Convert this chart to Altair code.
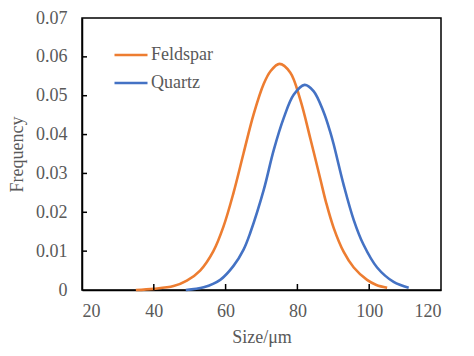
import altair as alt
import pandas as pd

feld_x = [35, 40, 45.5, 49.2, 52.9, 56.6, 59.4, 62.2, 65.0, 67.8, 70.6, 72.5, 75.0, 78.0, 80.8, 83.6, 86.4, 88.0, 90.1, 92.9, 95.7, 99.4, 102.0, 105.0]
feld_y = [0.0, 0.0003, 0.001, 0.0024, 0.005, 0.0100, 0.0163, 0.0250, 0.0352, 0.0452, 0.0530, 0.0563, 0.0582, 0.0560, 0.0490, 0.0390, 0.0285, 0.0225, 0.0160, 0.0098, 0.0058, 0.0026, 0.0013, 0.0006]
quartz_x = [48.9, 53.9, 58.5, 62.2, 65.0, 66.9, 70.6, 73.4, 76.2, 79.0, 82.0, 84.5, 87.3, 89.2, 90.1, 92.9, 95.7, 98.4, 102.2, 106.8, 111.0]
quartz_y = [0.0, 0.0007, 0.0026, 0.0062, 0.0104, 0.0148, 0.0257, 0.0360, 0.0443, 0.0503, 0.0528, 0.0512, 0.0458, 0.0405, 0.0375, 0.0270, 0.0180, 0.0117, 0.0058, 0.0021, 0.0006]
series_names = ["Feldspar", "Quartz"]
series_colors = ["#ED7D31", "#4472C4"]
x_ticks = [20, 40, 60, 80, 100, 120]
y_ticks = [0, 0.01, 0.02, 0.03, 0.04, 0.05, 0.06, 0.07]

df = pd.concat([
    pd.DataFrame({"size": feld_x, "freq": feld_y, "series": series_names[0], "order": range(len(feld_x))}),
    pd.DataFrame({"size": quartz_x, "freq": quartz_y, "series": series_names[1], "order": range(len(quartz_x))}),
])

xs = alt.Scale(domain=[20, 120], nice=False, zero=False)
ys = alt.Scale(domain=[0, 0.07], nice=False)
FONT = "Liberation Serif"
GREY = "#595959"
FS = 18

common = dict(grid=False, ticks=False, domainColor="black", domainWidth=1.5,
              labelFont=FONT, labelFontSize=FS, labelColor=GREY, labelOverlap=False,
              titleFont=FONT, titleFontSize=FS, titleColor=GREY, titleFontWeight="normal")
x_axis = alt.Axis(values=x_ticks, labelPadding=12, titlePadding=8, **common)
y_axis = alt.Axis(values=y_ticks, labelPadding=15, titlePadding=9,
                  labelExpr="datum.value == 0 ? '0' : format(datum.value, '.2f')", **common)

def X(field):
    return alt.X(field, type="quantitative", scale=xs, title="Size/μm", axis=x_axis)

def Y(field):
    return alt.Y(field, type="quantitative", scale=ys, title="Frequency", axis=y_axis)

lines = alt.Chart(df).mark_line(strokeWidth=2.6, interpolate="catmull-rom").encode(
    x=X("size"),
    y=Y("freq"),
    color=alt.Color("series:N", scale=alt.Scale(domain=series_names, range=series_colors),
                    legend=alt.Legend(title=None, orient="none", legendX=31, legendY=19,
                                      symbolType="M-1,0H1", symbolSize=1089,
                                      symbolStrokeWidth=2.6, labelOffset=2, rowPadding=1)),
    order="order:Q",
)

xt = alt.Chart(pd.DataFrame({"size": x_ticks[1:-1]})).mark_rule(color="black", strokeWidth=1.5).encode(
    x=X("size"), y=alt.value(266), y2=alt.value(272))
yt = alt.Chart(pd.DataFrame({"freq": y_ticks[1:-1]})).mark_rule(color="black", strokeWidth=1.5).encode(
    y=Y("freq"), x=alt.value(0), x2=alt.value(5))

chart = alt.layer(lines, xt, yt).properties(
    width=359, height=272,
    autosize=alt.AutoSizeParams(type="none"),
    padding={"left": 82, "top": 18, "right": 33, "bottom": 66},
).configure(
    background="white", font=FONT
).configure_axis(**common).configure_legend(
    labelFont=FONT, labelFontSize=FS, labelColor=GREY,
).configure_view(stroke="black", strokeWidth=1.5)

chart.save("out.html", embed_options={"renderer": "svg", "actions": False})
